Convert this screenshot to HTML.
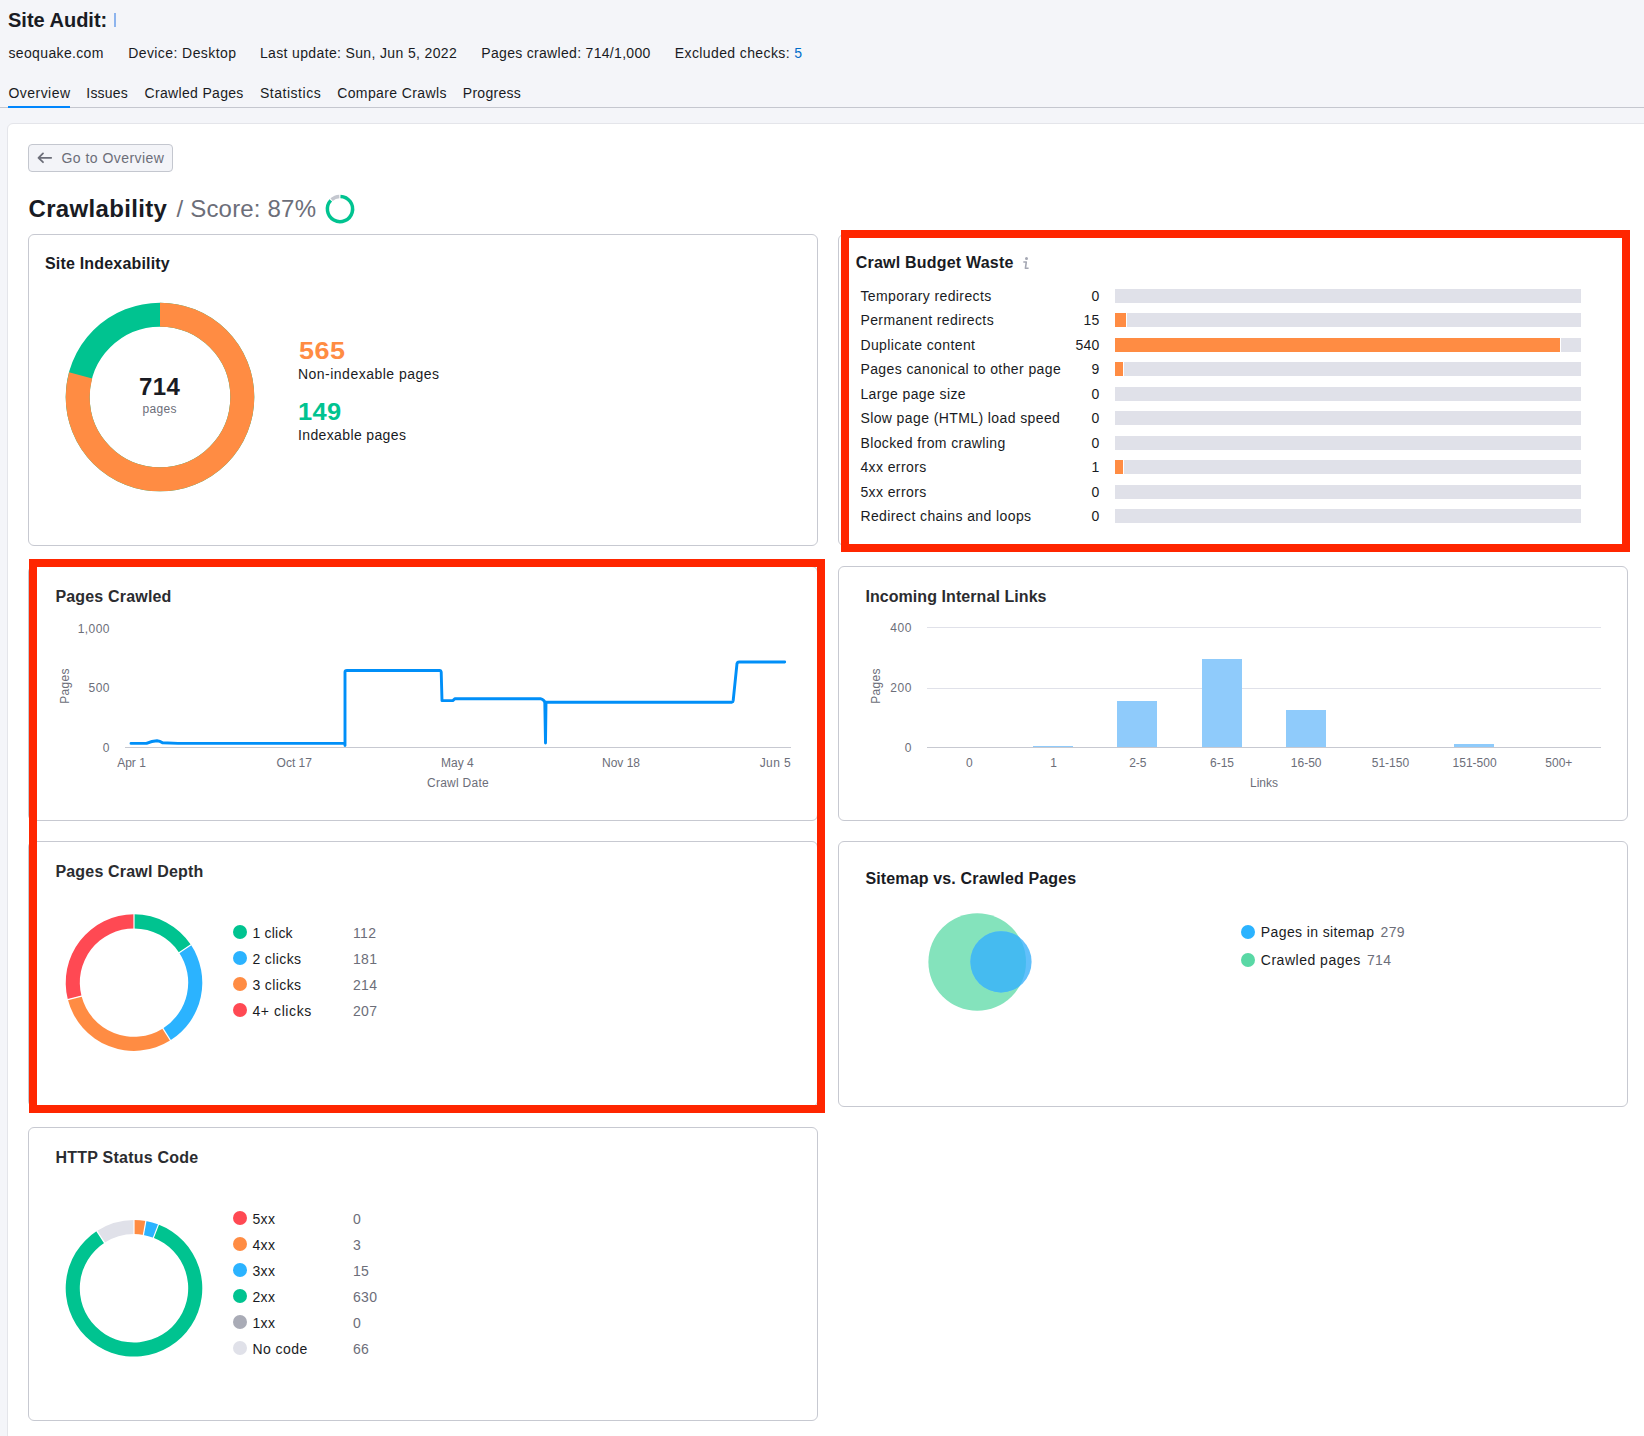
<!DOCTYPE html>
<html><head><meta charset="utf-8">
<style>
*{box-sizing:border-box;margin:0;padding:0}
html,body{width:1644px;height:1436px;overflow:hidden}
body{background:#f4f5f9;position:relative;font-family:"Liberation Sans",sans-serif;color:#191b23}
.t{position:absolute;white-space:pre;line-height:1}
.f14{font-size:14px;line-height:14px;letter-spacing:0.4px}
.f12{font-size:12px;line-height:12px}
.f16{font-size:16px;line-height:16px;font-weight:700;letter-spacing:0.2px;color:#2b2c30}
.g{color:#6c6e79}
.panel{position:absolute;left:7px;top:123px;width:1660px;height:1400px;background:#fff;border:1px solid #e4e5ea;border-radius:6px}
.card{position:absolute;background:#fff;border:1px solid #c7c9d1;border-radius:6px}
.red{position:absolute;border:8px solid #ff2600}
svg{position:absolute;left:0;top:0;overflow:visible}
</style></head><body>
<!-- header -->
<div class="t" style="left:8px;top:9.6px;font-size:20px;line-height:20px;font-weight:700">Site Audit:</div>
<div style="position:absolute;left:114px;top:13px;width:2px;height:14px;background:#8db4ee"></div>
<div class="t f14" style="left:8.5px;top:46.2px;letter-spacing:0.35px">seoquake.com</div>
<div class="t f14" style="left:128.2px;top:46.2px;letter-spacing:0.42px">Device: Desktop</div>
<div class="t f14" style="left:259.9px;top:46.2px;letter-spacing:0.36px">Last update: Sun, Jun 5, 2022</div>
<div class="t f14" style="left:481.3px;top:46.2px;letter-spacing:0.31px">Pages crawled: 714/1,000</div>
<div class="t f14" style="left:674.8px;top:46.2px;letter-spacing:0.39px">Excluded checks: <span style="color:#006dca">5</span></div>

<div class="t f14" style="left:8.5px;top:85.75px;letter-spacing:0.45px">Overview</div>
<div class="t f14" style="left:86.3px;top:85.75px;letter-spacing:0.19px">Issues</div>
<div class="t f14" style="left:144.6px;top:85.75px;letter-spacing:0.32px">Crawled Pages</div>
<div class="t f14" style="left:259.9px;top:85.75px;letter-spacing:0.53px">Statistics</div>
<div class="t f14" style="left:337.2px;top:85.75px;letter-spacing:0.38px">Compare Crawls</div>
<div class="t f14" style="left:462.8px;top:85.75px;letter-spacing:0.27px">Progress</div>
<div style="position:absolute;left:0;top:107px;width:1644px;height:1px;background:#c5c7cf"></div>
<div style="position:absolute;left:8px;top:106px;width:62px;height:2px;background:#0086fd"></div>

<div class="panel"></div>

<!-- button -->
<div style="position:absolute;left:28px;top:144px;width:145px;height:28px;border:1px solid #c4c7cf;border-radius:4px;background:#f3f4f8"></div>
<svg width="20" height="20" style="left:36px;top:148px"><path d="M2.5 9.8 H15.2 M7 5.4 L2.5 9.8 L7 14.2" fill="none" stroke="#6c6e79" stroke-width="1.8" stroke-linecap="round" stroke-linejoin="round"/></svg>
<div class="t f14 g" style="left:61.5px;top:151.2px;letter-spacing:0.46px">Go to Overview</div>

<!-- title -->
<div class="t" style="left:28.5px;top:196.7px;font-size:24px;line-height:24px;font-weight:700;letter-spacing:0.34px">Crawlability</div>
<div class="t g" style="left:176.5px;top:196.7px;font-size:24px;line-height:24px;letter-spacing:0.19px">/ Score: 87%</div>
<svg width="1644" height="1436"><path d="M340.44,196.41 A12.6,12.6 0 1 1 330.78,200.41" fill="none" stroke="#00c390" stroke-width="3.5"/><path d="M331.57,199.64 A12.6,12.6 0 0 1 339.34,196.42" fill="none" stroke="#c4c7cf" stroke-width="3.5"/></svg>

<!-- cards -->
<div class="card" style="left:28px;top:234px;width:790px;height:312px"></div>
<div class="card" style="left:838px;top:234px;width:790px;height:312px"></div>
<div class="card" style="left:28px;top:566px;width:790px;height:255px"></div>
<div class="card" style="left:28px;top:841px;width:790px;height:266px"></div>
<div class="card" style="left:838px;top:566px;width:790px;height:255px"></div>
<div class="card" style="left:838px;top:841px;width:790px;height:266px"></div>
<div class="card" style="left:28px;top:1127px;width:790px;height:294px"></div>


<!-- Site Indexability -->
<div class="t f16" style="color:#191b23;left:45px;top:255.50px;letter-spacing:0.18px">Site Indexability</div>
<svg width="200" height="200" style="left:59.7px;top:297px"><g transform="translate(100,100) rotate(-90)">
<circle r="82.3" fill="none" stroke="#00c390" stroke-width="24"/>
<circle r="82.3" fill="none" stroke="#ff8c43" stroke-width="24" stroke-dasharray="409.2 600"/>
</g></svg>
<div class="t" style="left:109.7px;width:100px;text-align:center;top:374.6px;font-size:24px;line-height:24px;font-weight:700;letter-spacing:0.48px">714</div>
<div class="t g" style="left:109.7px;width:100px;text-align:center;top:402.8px;font-size:12px;line-height:12px;letter-spacing:0.32px">pages</div>
<div class="t" style="left:298.6px;top:338.7px;font-size:24px;line-height:24px;font-weight:700;letter-spacing:0.4px;color:#ff8c43;transform:scaleX(1.125);transform-origin:0 0">565</div>
<div class="t f14" style="left:298px;top:366.95px;letter-spacing:0.48px">Non-indexable pages</div>
<div class="t" style="left:298px;top:399.5px;font-size:24px;line-height:24px;font-weight:700;letter-spacing:0.3px;color:#00c390;transform:scaleX(1.06);transform-origin:0 0">149</div>
<div class="t f14" style="left:298px;top:427.75px;letter-spacing:0.37px">Indexable pages</div>

<!-- Crawl Budget Waste -->
<div class="t f16" style="color:#191b23;left:855.7px;top:255.30px;letter-spacing:0.21px">Crawl Budget Waste</div>
<svg width="1644" height="1436"><circle cx="1026.5" cy="258.5" r="1.5" fill="#a4a7b3"/><path d="M1023.3,262 H1026.3 L1025.4,268.3 H1028.6" fill="none" stroke="#a4a7b3" stroke-width="1.6" stroke-linejoin="round"/></svg>
<div class="t f14" style="left:860.4px;top:289.25px">Temporary redirects</div>
<div class="t f14" style="right:544.3px;top:289.25px;letter-spacing:0.3px;text-align:right">0</div>
<div style="position:absolute;left:1115px;top:289px;width:466px;height:14px;background:#e0e1e9"></div>
<div class="t f14" style="left:860.4px;top:313.25px">Permanent redirects</div>
<div class="t f14" style="right:544.3px;top:313.25px;letter-spacing:0.3px;text-align:right">15</div>
<div style="position:absolute;left:1115px;top:313px;width:466px;height:14px;background:#e0e1e9"></div>
<div style="position:absolute;left:1115px;top:313px;width:11px;height:14px;background:#ff8c43;border-right:1px solid #fff;box-sizing:content-box"></div>
<div class="t f14" style="left:860.4px;top:338.25px">Duplicate content</div>
<div class="t f14" style="right:544.3px;top:338.25px;letter-spacing:0.3px;text-align:right">540</div>
<div style="position:absolute;left:1115px;top:338px;width:466px;height:14px;background:#e0e1e9"></div>
<div style="position:absolute;left:1115px;top:338px;width:445px;height:14px;background:#ff8c43;border-right:1px solid #fff;box-sizing:content-box"></div>
<div class="t f14" style="left:860.4px;top:362.25px">Pages canonical to other page</div>
<div class="t f14" style="right:544.3px;top:362.25px;letter-spacing:0.3px;text-align:right">9</div>
<div style="position:absolute;left:1115px;top:362px;width:466px;height:14px;background:#e0e1e9"></div>
<div style="position:absolute;left:1115px;top:362px;width:8px;height:14px;background:#ff8c43;border-right:1px solid #fff;box-sizing:content-box"></div>
<div class="t f14" style="left:860.4px;top:387.25px">Large page size</div>
<div class="t f14" style="right:544.3px;top:387.25px;letter-spacing:0.3px;text-align:right">0</div>
<div style="position:absolute;left:1115px;top:387px;width:466px;height:14px;background:#e0e1e9"></div>
<div class="t f14" style="left:860.4px;top:411.25px">Slow page (HTML) load speed</div>
<div class="t f14" style="right:544.3px;top:411.25px;letter-spacing:0.3px;text-align:right">0</div>
<div style="position:absolute;left:1115px;top:411px;width:466px;height:14px;background:#e0e1e9"></div>
<div class="t f14" style="left:860.4px;top:436.25px">Blocked from crawling</div>
<div class="t f14" style="right:544.3px;top:436.25px;letter-spacing:0.3px;text-align:right">0</div>
<div style="position:absolute;left:1115px;top:436px;width:466px;height:14px;background:#e0e1e9"></div>
<div class="t f14" style="left:860.4px;top:460.25px">4xx errors</div>
<div class="t f14" style="right:544.3px;top:460.25px;letter-spacing:0.3px;text-align:right">1</div>
<div style="position:absolute;left:1115px;top:460px;width:466px;height:14px;background:#e0e1e9"></div>
<div style="position:absolute;left:1115px;top:460px;width:8px;height:14px;background:#ff8c43;border-right:1px solid #fff;box-sizing:content-box"></div>
<div class="t f14" style="left:860.4px;top:485.25px">5xx errors</div>
<div class="t f14" style="right:544.3px;top:485.25px;letter-spacing:0.3px;text-align:right">0</div>
<div style="position:absolute;left:1115px;top:485px;width:466px;height:14px;background:#e0e1e9"></div>
<div class="t f14" style="left:860.4px;top:509.25px">Redirect chains and loops</div>
<div class="t f14" style="right:544.3px;top:509.25px;letter-spacing:0.3px;text-align:right">0</div>
<div style="position:absolute;left:1115px;top:509px;width:466px;height:14px;background:#e0e1e9"></div>

<!-- Pages Crawled -->
<div class="t f16" style="left:55.4px;top:589.10px;letter-spacing:0.18px">Pages Crawled</div>
<div style="position:absolute;left:125px;top:747px;width:666px;height:1px;background:#c7c9d1"></div>
<div class="t f12 g" style="right:1534.2px;letter-spacing:0.4px;top:623.00px;text-align:right">1,000</div>
<div class="t f12 g" style="right:1534.2px;letter-spacing:0.4px;top:682.20px;text-align:right">500</div>
<div class="t f12 g" style="right:1534.2px;letter-spacing:0.4px;top:741.90px;text-align:right">0</div>
<div class="t f12 g" style="left:34.9px;top:680.00px;width:60px;text-align:center;transform:rotate(-90deg);letter-spacing:0.3px">Pages</div>
<div class="t f12 g" style="left:101.5px;width:60px;text-align:center;top:756.90px">Apr 1</div>
<div class="t f12 g" style="left:264.3px;width:60px;text-align:center;top:756.90px">Oct 17</div>
<div class="t f12 g" style="left:427.4px;width:60px;text-align:center;top:756.90px">May 4</div>
<div class="t f12 g" style="left:591px;width:60px;text-align:center;top:756.90px">Nov 18</div>
<div class="t f12 g" style="left:745.4px;width:60px;text-align:center;top:756.90px;letter-spacing:0.4px">Jun 5</div>
<div class="t f12 g" style="left:408px;width:100px;text-align:center;top:776.90px;letter-spacing:0.27px">Crawl Date</div>
<svg width="1644" height="1436"><path d="M131,743.4 L146.5,743.4 Q152,741 157,740.7 Q160,741 162.5,742.8 L178,743.4 L344,743.4 Q345,743.6 345,745.5 L345,672 Q345,670.5 347,670.5 L440,670.5 Q441,670.5 441.2,672 L442,700.6 L452.8,700.6 L455,698.7 L540.4,698.7 Q544,699.5 544.8,702.5 L545.5,743 L546,702.2 L732,702.2 Q733,702 733.2,700.5 L737,663.5 Q737.5,662 739,662 L784.7,662" fill="none" stroke="#008ff8" stroke-width="2.9" stroke-linecap="round" stroke-linejoin="round"/></svg>

<!-- Pages Crawl Depth -->
<div class="t f16" style="left:55.4px;top:864.10px;letter-spacing:0.19px">Pages Crawl Depth</div>
<svg width="1644" height="1436"><path d="M134.00,914.30 A68.3,68.3 0 0 1 190.94,944.87 L179.18,952.66 A54.2,54.2 0 0 0 134.00,928.40 Z" fill="#00c390"/><path d="M190.94,944.87 A68.3,68.3 0 0 1 170.46,1040.35 L162.94,1028.43 A54.2,54.2 0 0 0 179.18,952.66 Z" fill="#2bb3ff"/><path d="M170.46,1040.35 A68.3,68.3 0 0 1 67.84,999.55 L81.50,996.05 A54.2,54.2 0 0 0 162.94,1028.43 Z" fill="#ff8c43"/><path d="M67.84,999.55 A68.3,68.3 0 0 1 134.00,914.30 L134.00,928.40 A54.2,54.2 0 0 0 81.50,996.05 Z" fill="#ff4953"/><line x1="134.00" y1="929.40" x2="134.00" y2="913.30" stroke="#fff" stroke-width="1.2"/><line x1="178.35" y1="953.21" x2="191.77" y2="944.32" stroke="#fff" stroke-width="1.2"/><line x1="162.40" y1="1027.58" x2="171.00" y2="1041.20" stroke="#fff" stroke-width="1.2"/><line x1="82.46" y1="995.80" x2="66.87" y2="999.80" stroke="#fff" stroke-width="1.2"/></svg>
<div style="position:absolute;left:233px;top:925px;width:14px;height:14px;border-radius:50%;background:#00c390"></div>
<div class="t f14" style="left:252.4px;top:925.55px;letter-spacing:0.22px">1 click</div>
<div class="t f14 g" style="left:353px;top:925.55px;letter-spacing:0.3px">112</div>
<div style="position:absolute;left:233px;top:951px;width:14px;height:14px;border-radius:50%;background:#2bb3ff"></div>
<div class="t f14" style="left:252.4px;top:951.65px;letter-spacing:0.4px">2 clicks</div>
<div class="t f14 g" style="left:353px;top:951.65px;letter-spacing:0.3px">181</div>
<div style="position:absolute;left:233px;top:977px;width:14px;height:14px;border-radius:50%;background:#ff8c43"></div>
<div class="t f14" style="left:252.4px;top:977.75px;letter-spacing:0.4px">3 clicks</div>
<div class="t f14 g" style="left:353px;top:977.75px;letter-spacing:0.3px">214</div>
<div style="position:absolute;left:233px;top:1003px;width:14px;height:14px;border-radius:50%;background:#ff4953"></div>
<div class="t f14" style="left:252.4px;top:1003.85px;letter-spacing:0.6px">4+ clicks</div>
<div class="t f14 g" style="left:353px;top:1003.85px;letter-spacing:0.3px">207</div>


<!-- Incoming Internal Links -->
<div class="t f16" style="left:865.4px;top:589.10px;letter-spacing:0.07px">Incoming Internal Links</div>
<div style="position:absolute;left:927px;top:627px;width:674px;height:1px;background:#e0e1e9"></div>
<div style="position:absolute;left:927px;top:688px;width:674px;height:1px;background:#e0e1e9"></div>
<div style="position:absolute;left:927px;top:747px;width:674px;height:1px;background:#c7c9d1"></div>
<div class="t f12 g" style="right:732.2px;letter-spacing:0.5px;top:621.50px;text-align:right">400</div>
<div class="t f12 g" style="right:732.2px;letter-spacing:0.5px;top:681.60px;text-align:right">200</div>
<div class="t f12 g" style="right:732.2px;letter-spacing:0.5px;top:741.50px;text-align:right">0</div>
<div class="t f12 g" style="left:846px;top:680.00px;width:60px;text-align:center;transform:rotate(-90deg);letter-spacing:0.3px">Pages</div>
<div style="position:absolute;left:1033.2px;top:745.5px;width:40px;height:1.5px;background:#8fcbfb"></div>
<div style="position:absolute;left:1117px;top:701px;width:40px;height:46px;background:#8fcbfb"></div>
<div style="position:absolute;left:1202px;top:659px;width:40px;height:88px;background:#8fcbfb"></div>
<div style="position:absolute;left:1286px;top:710px;width:40px;height:37px;background:#8fcbfb"></div>
<div style="position:absolute;left:1454px;top:744px;width:40px;height:3px;background:#8fcbfb"></div>
<div class="t f12 g" style="left:929.4px;width:80px;text-align:center;top:756.90px">0</div>
<div class="t f12 g" style="left:1013.6px;width:80px;text-align:center;top:756.90px">1</div>
<div class="t f12 g" style="left:1097.8px;width:80px;text-align:center;top:756.90px">2-5</div>
<div class="t f12 g" style="left:1182.0px;width:80px;text-align:center;top:756.90px">6-15</div>
<div class="t f12 g" style="left:1266.2px;width:80px;text-align:center;top:756.90px">16-50</div>
<div class="t f12 g" style="left:1350.4px;width:80px;text-align:center;top:756.90px">51-150</div>
<div class="t f12 g" style="left:1434.6px;width:80px;text-align:center;top:756.90px">151-500</div>
<div class="t f12 g" style="left:1518.8px;width:80px;text-align:center;top:756.90px">500+</div>

<div class="t f12 g" style="left:1214px;width:100px;text-align:center;top:776.90px">Links</div>

<!-- Sitemap -->
<div class="t f16" style="color:#191b23;left:865.4px;top:871.10px;letter-spacing:0.15px">Sitemap vs. Crawled Pages</div>
<svg width="1644" height="1436">
<circle cx="977.2" cy="962" r="48.8" fill="#84e3bc"/>
<circle cx="1001" cy="961.8" r="30.6" fill="#62c0fb"/>
<clipPath id="cg"><circle cx="977.2" cy="962" r="48.8"/></clipPath>
<circle cx="1001" cy="961.8" r="30.6" fill="#45bbf0" clip-path="url(#cg)"/>
</svg>
<div style="position:absolute;left:1241px;top:925px;width:14px;height:14px;border-radius:50%;background:#2bb3ff"></div>
<div style="position:absolute;left:1241px;top:953px;width:14px;height:14px;border-radius:50%;background:#59d8a5"></div>
<div class="t f14" style="left:1260.8px;top:924.55px;letter-spacing:0.39px">Pages in sitemap</div>
<div class="t f14 g" style="left:1380.6px;top:924.55px;letter-spacing:0.3px">279</div>
<div class="t f14" style="left:1260.8px;top:952.65px;letter-spacing:0.51px">Crawled pages</div>
<div class="t f14 g" style="left:1367px;top:952.65px;letter-spacing:0.3px">714</div>

<!-- HTTP -->
<div class="t f16" style="left:55.4px;top:1149.90px;letter-spacing:0.24px">HTTP Status Code</div>
<svg width="1644" height="1436"><path d="M134.00,1220.00 A68.3,68.3 0 0 1 145.86,1221.04 L143.41,1234.92 A54.2,54.2 0 0 0 134.00,1234.10 Z" fill="#ff8c43"/><path d="M145.86,1221.04 A68.3,68.3 0 0 1 158.48,1224.54 L153.42,1237.70 A54.2,54.2 0 0 0 143.41,1234.92 Z" fill="#2bb3ff"/><path d="M158.48,1224.54 A68.3,68.3 0 1 1 96.80,1231.02 L104.48,1242.84 A54.2,54.2 0 1 0 153.42,1237.70 Z" fill="#00c390"/><path d="M96.80,1231.02 A68.3,68.3 0 0 1 134.00,1220.00 L134.00,1234.10 A54.2,54.2 0 0 0 104.48,1242.84 Z" fill="#e0e1e9"/><line x1="134.00" y1="1235.10" x2="134.00" y2="1219.00" stroke="#fff" stroke-width="1.2"/><line x1="143.24" y1="1235.91" x2="146.03" y2="1220.05" stroke="#fff" stroke-width="1.2"/><line x1="153.07" y1="1238.63" x2="158.83" y2="1223.60" stroke="#fff" stroke-width="1.2"/><line x1="105.03" y1="1243.68" x2="96.26" y2="1230.18" stroke="#fff" stroke-width="1.2"/></svg>
<div style="position:absolute;left:233px;top:1211px;width:14px;height:14px;border-radius:50%;background:#ff4953"></div>
<div class="t f14" style="left:252.4px;top:1211.85px;letter-spacing:0.4px">5xx</div>
<div class="t f14 g" style="left:353px;top:1211.85px;letter-spacing:0.3px">0</div>
<div style="position:absolute;left:233px;top:1237px;width:14px;height:14px;border-radius:50%;background:#ff8c43"></div>
<div class="t f14" style="left:252.4px;top:1237.95px;letter-spacing:0.4px">4xx</div>
<div class="t f14 g" style="left:353px;top:1237.95px;letter-spacing:0.3px">3</div>
<div style="position:absolute;left:233px;top:1263px;width:14px;height:14px;border-radius:50%;background:#2bb3ff"></div>
<div class="t f14" style="left:252.4px;top:1264.05px;letter-spacing:0.4px">3xx</div>
<div class="t f14 g" style="left:353px;top:1264.05px;letter-spacing:0.3px">15</div>
<div style="position:absolute;left:233px;top:1289px;width:14px;height:14px;border-radius:50%;background:#00c390"></div>
<div class="t f14" style="left:252.4px;top:1290.15px;letter-spacing:0.4px">2xx</div>
<div class="t f14 g" style="left:353px;top:1290.15px;letter-spacing:0.3px">630</div>
<div style="position:absolute;left:233px;top:1315px;width:14px;height:14px;border-radius:50%;background:#a9abb6"></div>
<div class="t f14" style="left:252.4px;top:1316.25px;letter-spacing:0.4px">1xx</div>
<div class="t f14 g" style="left:353px;top:1316.25px;letter-spacing:0.3px">0</div>
<div style="position:absolute;left:233px;top:1341px;width:14px;height:14px;border-radius:50%;background:#e0e1e9"></div>
<div class="t f14" style="left:252.4px;top:1342.35px;letter-spacing:0.46px">No code</div>
<div class="t f14 g" style="left:353px;top:1342.35px;letter-spacing:0.3px">66</div>

<!-- CONTENT -->

<!-- red boxes -->
<div class="red" style="left:841px;top:230px;width:789px;height:322px"></div>
<div class="red" style="left:29px;top:559px;width:796px;height:554px"></div>
</body></html>
